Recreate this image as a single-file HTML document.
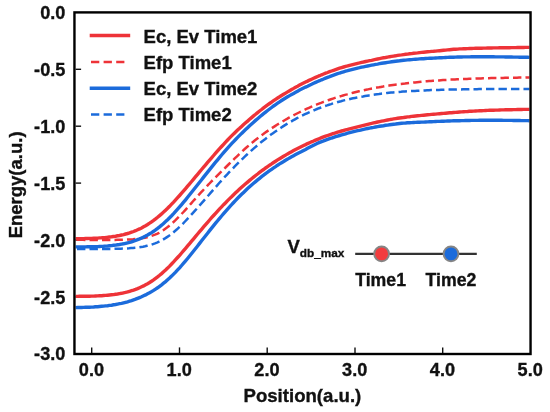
<!DOCTYPE html>
<html lang="en"><head><meta charset="utf-8"><title>Energy band diagram</title>
<style>
html,body{margin:0;padding:0;background:#fff;}
body{width:550px;height:412px;overflow:hidden;}
svg{display:block;font-family:"Liberation Sans",sans-serif;}
text{stroke:#111;stroke-width:0.35px;}
</style></head><body>
<svg width="550" height="412" viewBox="0 0 550 412">
<rect width="550" height="412" fill="#fff"/>
<g stroke="#111" stroke-width="1.4"><line x1="91.7" y1="353" x2="91.7" y2="347.4"/><line x1="179.5" y1="353" x2="179.5" y2="347.4"/><line x1="267.2" y1="353" x2="267.2" y2="347.4"/><line x1="355.0" y1="353" x2="355.0" y2="347.4"/><line x1="442.7" y1="353" x2="442.7" y2="347.4"/><line x1="75.6" y1="69.3" x2="81.1" y2="69.3"/><line x1="75.6" y1="126.2" x2="81.1" y2="126.2"/><line x1="75.6" y1="183.1" x2="81.1" y2="183.1"/><line x1="75.6" y1="240.0" x2="81.1" y2="240.0"/><line x1="75.6" y1="296.9" x2="81.1" y2="296.9"/></g>
<path d="M75.6,296.4 L77.6,296.4 L79.6,296.3 L81.6,296.3 L83.6,296.3 L85.6,296.3 L87.6,296.2 L89.6,296.2 L91.6,296.1 L93.6,296.1 L95.6,296.0 L97.6,295.9 L99.6,295.8 L101.6,295.7 L103.6,295.5 L105.6,295.4 L107.6,295.2 L109.6,295.0 L111.6,294.8 L113.6,294.6 L115.6,294.3 L117.6,294.0 L119.6,293.6 L121.6,293.3 L123.6,292.8 L125.6,292.4 L127.6,291.9 L129.6,291.3 L131.6,290.7 L133.6,290.1 L135.6,289.4 L137.6,288.6 L139.6,287.7 L141.6,286.8 L143.6,285.9 L145.6,284.8 L147.6,283.7 L149.6,282.5 L151.6,281.2 L153.6,279.9 L155.6,278.4 L157.6,276.9 L159.6,275.3 L161.6,273.6 L163.6,271.8 L165.6,270.0 L167.6,268.1 L169.6,266.1 L171.6,264.0 L173.6,261.9 L175.6,259.7 L177.6,257.5 L179.6,255.3 L181.6,253.0 L183.6,250.6 L185.6,248.3 L187.6,245.9 L189.6,243.6 L191.6,241.2 L193.6,238.8 L195.6,236.4 L197.6,234.0 L199.6,231.6 L201.6,229.3 L203.6,226.9 L205.6,224.6 L207.6,222.3 L209.6,220.0 L211.6,217.7 L213.6,215.5 L215.6,213.3 L217.6,211.1 L219.6,208.9 L221.6,206.8 L223.6,204.7 L225.6,202.7 L227.6,200.6 L229.6,198.6 L231.6,196.7 L233.6,194.7 L235.6,192.8 L237.6,190.9 L239.6,189.1 L241.6,187.3 L243.6,185.5 L245.6,183.8 L247.6,182.1 L249.6,180.4 L251.6,178.7 L253.6,177.1 L255.6,175.5 L257.6,174.0 L259.6,172.4 L261.6,170.9 L263.6,169.5 L265.6,168.0 L267.6,166.6 L269.6,165.2 L271.6,163.9 L273.6,162.5 L275.6,161.2 L277.6,159.9 L279.6,158.7 L281.6,157.5 L283.6,156.3 L285.6,155.1 L287.6,153.9 L289.6,152.8 L291.6,151.7 L293.6,150.6 L295.6,149.5 L297.6,148.5 L299.6,147.5 L301.6,146.5 L303.6,145.5 L305.6,144.6 L307.6,143.6 L309.6,142.7 L311.6,141.8 L313.6,141.0 L315.6,140.1 L317.6,139.3 L319.6,138.5 L321.6,137.7 L323.6,136.9 L325.6,136.2 L327.6,135.5 L329.6,134.8 L331.6,134.1 L333.6,133.5 L335.6,132.8 L337.6,132.2 L339.6,131.6 L341.6,131.0 L343.6,130.5 L345.6,129.9 L347.6,129.4 L349.6,128.8 L351.6,128.3 L353.6,127.8 L355.6,127.3 L357.6,126.8 L359.6,126.3 L361.6,125.8 L363.6,125.3 L365.6,124.8 L367.6,124.3 L369.6,123.8 L371.6,123.4 L373.6,122.9 L375.6,122.5 L377.6,122.0 L379.6,121.6 L381.6,121.2 L383.6,120.8 L385.6,120.4 L387.6,120.0 L389.6,119.6 L391.6,119.3 L393.6,118.9 L395.6,118.6 L397.6,118.3 L399.6,118.0 L401.6,117.7 L403.6,117.5 L405.6,117.2 L407.6,116.9 L409.6,116.7 L411.6,116.4 L413.6,116.2 L415.6,116.0 L417.6,115.8 L419.6,115.6 L421.6,115.4 L423.6,115.2 L425.6,115.0 L427.6,114.8 L429.6,114.6 L431.6,114.4 L433.6,114.2 L435.6,114.1 L437.6,113.9 L439.6,113.7 L441.6,113.5 L443.6,113.4 L445.6,113.2 L447.6,113.0 L449.6,112.8 L451.6,112.7 L453.6,112.5 L455.6,112.4 L457.6,112.2 L459.6,112.0 L461.6,111.9 L463.6,111.7 L465.6,111.6 L467.6,111.5 L469.6,111.3 L471.6,111.2 L473.6,111.1 L475.6,111.0 L477.6,110.9 L479.6,110.8 L481.6,110.7 L483.6,110.6 L485.6,110.5 L487.6,110.4 L489.6,110.3 L491.6,110.3 L493.6,110.2 L495.6,110.1 L497.6,110.1 L499.6,110.0 L501.6,109.9 L503.6,109.9 L505.6,109.8 L507.6,109.8 L509.6,109.7 L511.6,109.7 L513.6,109.6 L515.6,109.6 L517.6,109.5 L519.6,109.5 L521.6,109.5 L523.6,109.4 L525.6,109.4 L527.6,109.4 L529.4,109.4" fill="none" stroke="#EE3338" stroke-width="3.4"/>
<path d="M75.6,238.7 L77.6,238.7 L79.6,238.6 L81.6,238.6 L83.6,238.6 L85.6,238.5 L87.6,238.5 L89.6,238.4 L91.6,238.4 L93.6,238.3 L95.6,238.2 L97.6,238.1 L99.6,237.9 L101.6,237.8 L103.6,237.6 L105.6,237.5 L107.6,237.3 L109.6,237.0 L111.6,236.8 L113.6,236.5 L115.6,236.2 L117.6,235.8 L119.6,235.5 L121.6,235.0 L123.6,234.6 L125.6,234.0 L127.6,233.5 L129.6,232.9 L131.6,232.2 L133.6,231.5 L135.6,230.7 L137.6,229.8 L139.6,228.9 L141.6,227.9 L143.6,226.8 L145.6,225.7 L147.6,224.5 L149.6,223.2 L151.6,221.8 L153.6,220.4 L155.6,218.9 L157.6,217.3 L159.6,215.6 L161.6,213.9 L163.6,212.1 L165.6,210.2 L167.6,208.3 L169.6,206.3 L171.6,204.2 L173.6,202.1 L175.6,199.9 L177.6,197.7 L179.6,195.5 L181.6,193.2 L183.6,190.9 L185.6,188.6 L187.6,186.2 L189.6,183.9 L191.6,181.5 L193.6,179.1 L195.6,176.7 L197.6,174.3 L199.6,171.9 L201.6,169.5 L203.6,167.2 L205.6,164.8 L207.6,162.4 L209.6,160.1 L211.6,157.8 L213.6,155.5 L215.6,153.2 L217.6,150.9 L219.6,148.7 L221.6,146.5 L223.6,144.3 L225.6,142.1 L227.6,140.0 L229.6,137.9 L231.6,135.9 L233.6,133.9 L235.6,132.0 L237.6,130.1 L239.6,128.3 L241.6,126.4 L243.6,124.6 L245.6,122.8 L247.6,121.1 L249.6,119.3 L251.6,117.6 L253.6,115.9 L255.6,114.3 L257.6,112.6 L259.6,111.0 L261.6,109.5 L263.6,107.9 L265.6,106.4 L267.6,104.9 L269.6,103.5 L271.6,102.1 L273.6,100.7 L275.6,99.3 L277.6,98.0 L279.6,96.8 L281.6,95.5 L283.6,94.3 L285.6,93.1 L287.6,91.9 L289.6,90.7 L291.6,89.5 L293.6,88.4 L295.6,87.2 L297.6,86.2 L299.6,85.1 L301.6,84.0 L303.6,83.0 L305.6,82.0 L307.6,81.1 L309.6,80.1 L311.6,79.2 L313.6,78.3 L315.6,77.4 L317.6,76.5 L319.6,75.7 L321.6,74.8 L323.6,74.0 L325.6,73.2 L327.6,72.5 L329.6,71.7 L331.6,71.0 L333.6,70.3 L335.6,69.6 L337.6,68.9 L339.6,68.2 L341.6,67.6 L343.6,67.0 L345.6,66.4 L347.6,65.9 L349.6,65.3 L351.6,64.8 L353.6,64.3 L355.6,63.8 L357.6,63.3 L359.6,62.9 L361.6,62.4 L363.6,62.0 L365.6,61.5 L367.6,61.1 L369.6,60.7 L371.6,60.3 L373.6,59.8 L375.6,59.4 L377.6,59.0 L379.6,58.6 L381.6,58.2 L383.6,57.8 L385.6,57.5 L387.6,57.1 L389.6,56.7 L391.6,56.4 L393.6,56.1 L395.6,55.8 L397.6,55.4 L399.6,55.1 L401.6,54.9 L403.6,54.6 L405.6,54.3 L407.6,54.1 L409.6,53.8 L411.6,53.6 L413.6,53.3 L415.6,53.1 L417.6,52.9 L419.6,52.6 L421.6,52.4 L423.6,52.2 L425.6,52.0 L427.6,51.8 L429.6,51.6 L431.6,51.4 L433.6,51.3 L435.6,51.1 L437.6,50.9 L439.6,50.7 L441.6,50.5 L443.6,50.3 L445.6,50.1 L447.6,49.9 L449.6,49.7 L451.6,49.5 L453.6,49.3 L455.6,49.2 L457.6,49.1 L459.6,48.9 L461.6,48.9 L463.6,48.8 L465.6,48.7 L467.6,48.6 L469.6,48.5 L471.6,48.5 L473.6,48.4 L475.6,48.3 L477.6,48.3 L479.6,48.2 L481.6,48.2 L483.6,48.1 L485.6,48.1 L487.6,48.0 L489.6,48.0 L491.6,48.0 L493.6,47.9 L495.6,47.9 L497.6,47.9 L499.6,47.8 L501.6,47.8 L503.6,47.8 L505.6,47.7 L507.6,47.7 L509.6,47.7 L511.6,47.6 L513.6,47.6 L515.6,47.6 L517.6,47.5 L519.6,47.5 L521.6,47.5 L523.6,47.5 L525.6,47.4 L527.6,47.4 L529.4,47.4" fill="none" stroke="#EE3338" stroke-width="3.4"/>
<path d="M77.0,239.8 L79.0,239.8 L81.0,239.8 L83.0,239.8 L85.0,239.9 L87.0,239.9 L89.0,239.9 L91.0,239.9 L93.0,239.9 L95.0,239.9 L97.0,239.9 L99.0,239.9 L101.0,239.9 L103.0,239.9 L105.0,239.9 L107.0,239.9 L109.0,239.9 L111.0,239.9 L113.0,239.9 L115.0,239.9 L117.0,239.8 L119.0,239.8 L121.0,239.8 L123.0,239.7 L125.0,239.7 L127.0,239.6 L129.0,239.5 L131.0,239.4 L133.0,239.3 L135.0,239.1 L137.0,238.9 L139.0,238.7 L141.0,238.4 L143.0,238.1 L145.0,237.7 L147.0,237.3 L149.0,236.7 L151.0,236.1 L153.0,235.4 L155.0,234.7 L157.0,233.8 L159.0,232.8 L161.0,231.6 L163.0,230.4 L165.0,229.0 L167.0,227.6 L169.0,226.0 L171.0,224.3 L173.0,222.5 L175.0,220.7 L177.0,218.7 L179.0,216.7 L181.0,214.6 L183.0,212.5 L185.0,210.3 L187.0,208.1 L189.0,205.9 L191.0,203.6 L193.0,201.3 L195.0,199.1 L197.0,196.8 L199.0,194.6 L201.0,192.4 L203.0,190.3 L205.0,188.1 L207.0,186.0 L209.0,184.0 L211.0,181.9 L213.0,179.9 L215.0,177.9 L217.0,175.9 L219.0,173.9 L221.0,171.9 L223.0,169.9 L225.0,168.0 L227.0,166.0 L229.0,164.0 L231.0,162.1 L233.0,160.1 L235.0,158.2 L237.0,156.3 L239.0,154.4 L241.0,152.5 L243.0,150.6 L245.0,148.8 L247.0,147.0 L249.0,145.3 L251.0,143.6 L253.0,141.9 L255.0,140.3 L257.0,138.7 L259.0,137.2 L261.0,135.7 L263.0,134.3 L265.0,132.8 L267.0,131.4 L269.0,130.1 L271.0,128.7 L273.0,127.4 L275.0,126.1 L277.0,124.8 L279.0,123.6 L281.0,122.4 L283.0,121.2 L285.0,120.0 L287.0,118.9 L289.0,117.7 L291.0,116.7 L293.0,115.6 L295.0,114.5 L297.0,113.5 L299.0,112.5 L301.0,111.5 L303.0,110.6 L305.0,109.6 L307.0,108.7 L309.0,107.8 L311.0,106.9 L313.0,106.1 L315.0,105.3 L317.0,104.4 L319.0,103.6 L321.0,102.9 L323.0,102.1 L325.0,101.4 L327.0,100.7 L329.0,100.0 L331.0,99.3 L333.0,98.6 L335.0,97.9 L337.0,97.3 L339.0,96.7 L341.0,96.1 L343.0,95.5 L345.0,94.9 L347.0,94.4 L349.0,93.8 L351.0,93.3 L353.0,92.8 L355.0,92.3 L357.0,91.8 L359.0,91.3 L361.0,90.9 L363.0,90.4 L365.0,90.0 L367.0,89.6 L369.0,89.1 L371.0,88.7 L373.0,88.4 L375.0,88.0 L377.0,87.6 L379.0,87.3 L381.0,86.9 L383.0,86.6 L385.0,86.2 L387.0,85.9 L389.0,85.6 L391.0,85.3 L393.0,85.0 L395.0,84.7 L397.0,84.5 L399.0,84.2 L401.0,84.0 L403.0,83.7 L405.0,83.5 L407.0,83.2 L409.0,83.0 L411.0,82.8 L413.0,82.6 L415.0,82.4 L417.0,82.2 L419.0,82.0 L421.0,81.8 L423.0,81.6 L425.0,81.4 L427.0,81.3 L429.0,81.1 L431.0,81.0 L433.0,80.8 L435.0,80.7 L437.0,80.5 L439.0,80.4 L441.0,80.2 L443.0,80.1 L445.0,80.0 L447.0,79.9 L449.0,79.8 L451.0,79.6 L453.0,79.5 L455.0,79.4 L457.0,79.3 L459.0,79.2 L461.0,79.2 L463.0,79.1 L465.0,79.0 L467.0,78.9 L469.0,78.8 L471.0,78.7 L473.0,78.7 L475.0,78.6 L477.0,78.5 L479.0,78.5 L481.0,78.4 L483.0,78.3 L485.0,78.3 L487.0,78.2 L489.0,78.2 L491.0,78.1 L493.0,78.1 L495.0,78.0 L497.0,78.0 L499.0,78.0 L501.0,77.9 L503.0,77.9 L505.0,77.8 L507.0,77.8 L509.0,77.8 L511.0,77.7 L513.0,77.7 L515.0,77.7 L517.0,77.7 L519.0,77.6 L521.0,77.6 L523.0,77.6 L525.0,77.6 L527.0,77.5 L529.0,77.5 L529.4,77.5" fill="none" stroke="#EE3338" stroke-width="2.5" stroke-dasharray="8.4 4.1"/>
<path d="M75.6,307.6 L77.6,307.5 L79.6,307.5 L81.6,307.5 L83.6,307.4 L85.6,307.3 L87.6,307.3 L89.6,307.2 L91.6,307.1 L93.6,307.0 L95.6,306.8 L97.6,306.7 L99.6,306.5 L101.6,306.3 L103.6,306.1 L105.6,305.9 L107.6,305.7 L109.6,305.4 L111.6,305.2 L113.6,304.8 L115.6,304.5 L117.6,304.1 L119.6,303.7 L121.6,303.3 L123.6,302.8 L125.6,302.3 L127.6,301.8 L129.6,301.2 L131.6,300.6 L133.6,299.9 L135.6,299.2 L137.6,298.4 L139.6,297.6 L141.6,296.8 L143.6,295.8 L145.6,294.9 L147.6,293.8 L149.6,292.8 L151.6,291.6 L153.6,290.4 L155.6,289.1 L157.6,287.8 L159.6,286.3 L161.6,284.8 L163.6,283.2 L165.6,281.6 L167.6,279.8 L169.6,278.0 L171.6,276.1 L173.6,274.1 L175.6,272.1 L177.6,269.9 L179.6,267.8 L181.6,265.5 L183.6,263.2 L185.6,260.9 L187.6,258.5 L189.6,256.0 L191.6,253.5 L193.6,251.0 L195.6,248.5 L197.6,246.0 L199.6,243.4 L201.6,240.8 L203.6,238.3 L205.6,235.7 L207.6,233.2 L209.6,230.6 L211.6,228.1 L213.6,225.6 L215.6,223.2 L217.6,220.7 L219.6,218.3 L221.6,216.0 L223.6,213.6 L225.6,211.3 L227.6,209.1 L229.6,206.8 L231.6,204.7 L233.6,202.5 L235.6,200.4 L237.6,198.3 L239.6,196.3 L241.6,194.3 L243.6,192.4 L245.6,190.5 L247.6,188.6 L249.6,186.8 L251.6,185.0 L253.6,183.3 L255.6,181.6 L257.6,179.9 L259.6,178.3 L261.6,176.7 L263.6,175.2 L265.6,173.6 L267.6,172.2 L269.6,170.7 L271.6,169.3 L273.6,167.9 L275.6,166.6 L277.6,165.2 L279.6,163.9 L281.6,162.7 L283.6,161.5 L285.6,160.2 L287.6,159.1 L289.6,157.9 L291.6,156.8 L293.6,155.7 L295.6,154.6 L297.6,153.5 L299.6,152.5 L301.6,151.5 L303.6,150.4 L305.6,149.4 L307.6,148.3 L309.6,147.2 L311.6,146.2 L313.6,145.2 L315.6,144.2 L317.6,143.3 L319.6,142.4 L321.6,141.6 L323.6,140.9 L325.6,140.1 L327.6,139.4 L329.6,138.7 L331.6,138.0 L333.6,137.4 L335.6,136.7 L337.6,136.1 L339.6,135.5 L341.6,134.9 L343.6,134.3 L345.6,133.8 L347.6,133.2 L349.6,132.7 L351.6,132.2 L353.6,131.7 L355.6,131.2 L357.6,130.7 L359.6,130.3 L361.6,129.8 L363.6,129.4 L365.6,128.9 L367.6,128.5 L369.6,128.1 L371.6,127.7 L373.6,127.4 L375.6,127.0 L377.6,126.6 L379.6,126.3 L381.6,126.0 L383.6,125.7 L385.6,125.3 L387.6,125.1 L389.6,124.8 L391.6,124.5 L393.6,124.2 L395.6,124.0 L397.6,123.7 L399.6,123.5 L401.6,123.3 L403.6,123.1 L405.6,123.0 L407.6,122.8 L409.6,122.7 L411.6,122.6 L413.6,122.5 L415.6,122.4 L417.6,122.3 L419.6,122.2 L421.6,122.1 L423.6,122.1 L425.6,122.0 L427.6,121.9 L429.6,121.8 L431.6,121.7 L433.6,121.6 L435.6,121.5 L437.6,121.4 L439.6,121.4 L441.6,121.3 L443.6,121.2 L445.6,121.1 L447.6,121.0 L449.6,121.0 L451.6,120.9 L453.6,120.8 L455.6,120.8 L457.6,120.7 L459.6,120.7 L461.6,120.6 L463.6,120.6 L465.6,120.5 L467.6,120.5 L469.6,120.5 L471.6,120.4 L473.6,120.4 L475.6,120.4 L477.6,120.4 L479.6,120.3 L481.6,120.3 L483.6,120.3 L485.6,120.3 L487.6,120.3 L489.6,120.3 L491.6,120.3 L493.6,120.3 L495.6,120.3 L497.6,120.3 L499.6,120.3 L501.6,120.3 L503.6,120.4 L505.6,120.4 L507.6,120.4 L509.6,120.4 L511.6,120.4 L513.6,120.5 L515.6,120.5 L517.6,120.5 L519.6,120.5 L521.6,120.6 L523.6,120.6 L525.6,120.6 L527.6,120.6 L529.4,120.7" fill="none" stroke="#1B6BDB" stroke-width="3.4"/>
<path d="M75.6,246.9 L77.6,246.9 L79.6,246.9 L81.6,246.9 L83.6,246.9 L85.6,246.9 L87.6,246.8 L89.6,246.8 L91.6,246.8 L93.6,246.7 L95.6,246.6 L97.6,246.6 L99.6,246.5 L101.6,246.4 L103.6,246.3 L105.6,246.1 L107.6,246.0 L109.6,245.8 L111.6,245.6 L113.6,245.3 L115.6,245.1 L117.6,244.8 L119.6,244.5 L121.6,244.1 L123.6,243.8 L125.6,243.3 L127.6,242.8 L129.6,242.3 L131.6,241.8 L133.6,241.1 L135.6,240.5 L137.6,239.7 L139.6,238.9 L141.6,238.0 L143.6,237.1 L145.6,236.1 L147.6,235.0 L149.6,233.8 L151.6,232.6 L153.6,231.3 L155.6,229.9 L157.6,228.4 L159.6,226.8 L161.6,225.2 L163.6,223.4 L165.6,221.6 L167.6,219.7 L169.6,217.7 L171.6,215.7 L173.6,213.6 L175.6,211.4 L177.6,209.2 L179.6,206.9 L181.6,204.6 L183.6,202.2 L185.6,199.8 L187.6,197.3 L189.6,194.8 L191.6,192.3 L193.6,189.8 L195.6,187.3 L197.6,184.8 L199.6,182.2 L201.6,179.7 L203.6,177.1 L205.6,174.6 L207.6,172.1 L209.6,169.6 L211.6,167.1 L213.6,164.6 L215.6,162.2 L217.6,159.8 L219.6,157.4 L221.6,155.0 L223.6,152.7 L225.6,150.4 L227.6,148.1 L229.6,145.9 L231.6,143.7 L233.6,141.6 L235.6,139.5 L237.6,137.4 L239.6,135.4 L241.6,133.4 L243.6,131.5 L245.6,129.6 L247.6,127.7 L249.6,125.8 L251.6,124.0 L253.6,122.2 L255.6,120.4 L257.6,118.7 L259.6,117.0 L261.6,115.3 L263.6,113.7 L265.6,112.1 L267.6,110.5 L269.6,109.0 L271.6,107.5 L273.6,106.0 L275.6,104.6 L277.6,103.2 L279.6,101.8 L281.6,100.5 L283.6,99.2 L285.6,98.0 L287.6,96.8 L289.6,95.6 L291.6,94.5 L293.6,93.4 L295.6,92.3 L297.6,91.2 L299.6,90.1 L301.6,89.1 L303.6,88.1 L305.6,87.1 L307.6,86.2 L309.6,85.2 L311.6,84.3 L313.6,83.3 L315.6,82.4 L317.6,81.5 L319.6,80.7 L321.6,79.8 L323.6,79.0 L325.6,78.1 L327.6,77.3 L329.6,76.6 L331.6,75.8 L333.6,75.1 L335.6,74.4 L337.6,73.7 L339.6,73.0 L341.6,72.4 L343.6,71.8 L345.6,71.2 L347.6,70.7 L349.6,70.1 L351.6,69.6 L353.6,69.1 L355.6,68.6 L357.6,68.1 L359.6,67.7 L361.6,67.2 L363.6,66.8 L365.6,66.4 L367.6,66.0 L369.6,65.6 L371.6,65.2 L373.6,64.8 L375.6,64.4 L377.6,64.1 L379.6,63.7 L381.6,63.3 L383.6,63.0 L385.6,62.7 L387.6,62.4 L389.6,62.1 L391.6,61.8 L393.6,61.5 L395.6,61.2 L397.6,61.0 L399.6,60.8 L401.6,60.5 L403.6,60.3 L405.6,60.1 L407.6,59.9 L409.6,59.7 L411.6,59.6 L413.6,59.4 L415.6,59.2 L417.6,59.1 L419.6,58.9 L421.6,58.8 L423.6,58.7 L425.6,58.5 L427.6,58.4 L429.6,58.3 L431.6,58.2 L433.6,58.1 L435.6,58.0 L437.6,57.9 L439.6,57.7 L441.6,57.7 L443.6,57.6 L445.6,57.5 L447.6,57.4 L449.6,57.3 L451.6,57.2 L453.6,57.2 L455.6,57.1 L457.6,57.0 L459.6,57.0 L461.6,57.0 L463.6,56.9 L465.6,56.9 L467.6,56.9 L469.6,56.9 L471.6,56.8 L473.6,56.8 L475.6,56.8 L477.6,56.8 L479.6,56.8 L481.6,56.8 L483.6,56.8 L485.6,56.8 L487.6,56.8 L489.6,56.8 L491.6,56.8 L493.6,56.8 L495.6,56.9 L497.6,56.9 L499.6,56.9 L501.6,56.9 L503.6,56.9 L505.6,57.0 L507.6,57.0 L509.6,57.0 L511.6,57.0 L513.6,57.1 L515.6,57.1 L517.6,57.1 L519.6,57.2 L521.6,57.2 L523.6,57.2 L525.6,57.3 L527.6,57.3 L529.4,57.4" fill="none" stroke="#1B6BDB" stroke-width="3.4"/>
<path d="M77.0,249.1 L79.0,249.1 L81.0,249.1 L83.0,249.1 L85.0,249.1 L87.0,249.1 L89.0,249.1 L91.0,249.1 L93.0,249.1 L95.0,249.1 L97.0,249.1 L99.0,249.0 L101.0,249.0 L103.0,249.0 L105.0,249.0 L107.0,249.0 L109.0,248.9 L111.0,248.9 L113.0,248.9 L115.0,248.8 L117.0,248.8 L119.0,248.7 L121.0,248.7 L123.0,248.6 L125.0,248.5 L127.0,248.4 L129.0,248.3 L131.0,248.1 L133.0,248.0 L135.0,247.8 L137.0,247.6 L139.0,247.3 L141.0,247.0 L143.0,246.7 L145.0,246.3 L147.0,245.8 L149.0,245.3 L151.0,244.8 L153.0,244.1 L155.0,243.4 L157.0,242.6 L159.0,241.7 L161.0,240.7 L163.0,239.6 L165.0,238.4 L167.0,237.1 L169.0,235.8 L171.0,234.3 L173.0,232.7 L175.0,231.0 L177.0,229.3 L179.0,227.4 L181.0,225.5 L183.0,223.6 L185.0,221.5 L187.0,219.4 L189.0,217.3 L191.0,215.1 L193.0,212.9 L195.0,210.7 L197.0,208.4 L199.0,206.1 L201.0,203.9 L203.0,201.6 L205.0,199.3 L207.0,197.0 L209.0,194.7 L211.0,192.4 L213.0,190.1 L215.0,187.8 L217.0,185.6 L219.0,183.3 L221.0,181.1 L223.0,178.9 L225.0,176.7 L227.0,174.6 L229.0,172.4 L231.0,170.3 L233.0,168.3 L235.0,166.2 L237.0,164.2 L239.0,162.2 L241.0,160.2 L243.0,158.3 L245.0,156.4 L247.0,154.5 L249.0,152.7 L251.0,150.9 L253.0,149.1 L255.0,147.4 L257.0,145.7 L259.0,144.0 L261.0,142.3 L263.0,140.7 L265.0,139.2 L267.0,137.6 L269.0,136.1 L271.0,134.6 L273.0,133.2 L275.0,131.8 L277.0,130.4 L279.0,129.0 L281.0,127.7 L283.0,126.4 L285.0,125.1 L287.0,123.9 L289.0,122.7 L291.0,121.6 L293.0,120.4 L295.0,119.3 L297.0,118.2 L299.0,117.2 L301.0,116.2 L303.0,115.2 L305.0,114.2 L307.0,113.3 L309.0,112.4 L311.0,111.5 L313.0,110.7 L315.0,109.8 L317.0,109.0 L319.0,108.2 L321.0,107.5 L323.0,106.8 L325.0,106.0 L327.0,105.4 L329.0,104.7 L331.0,104.1 L333.0,103.4 L335.0,102.8 L337.0,102.3 L339.0,101.7 L341.0,101.2 L343.0,100.6 L345.0,100.1 L347.0,99.6 L349.0,99.2 L351.0,98.7 L353.0,98.3 L355.0,97.9 L357.0,97.5 L359.0,97.1 L361.0,96.7 L363.0,96.4 L365.0,96.0 L367.0,95.7 L369.0,95.4 L371.0,95.1 L373.0,94.8 L375.0,94.5 L377.0,94.2 L379.0,94.0 L381.0,93.7 L383.0,93.5 L385.0,93.3 L387.0,93.0 L389.0,92.8 L391.0,92.6 L393.0,92.5 L395.0,92.3 L397.0,92.1 L399.0,91.9 L401.0,91.8 L403.0,91.6 L405.0,91.5 L407.0,91.3 L409.0,91.2 L411.0,91.1 L413.0,91.0 L415.0,90.9 L417.0,90.8 L419.0,90.7 L421.0,90.6 L423.0,90.5 L425.0,90.4 L427.0,90.3 L429.0,90.2 L431.0,90.1 L433.0,90.1 L435.0,90.0 L437.0,89.9 L439.0,89.9 L441.0,89.8 L443.0,89.8 L445.0,89.7 L447.0,89.7 L449.0,89.6 L451.0,89.6 L453.0,89.5 L455.0,89.5 L457.0,89.4 L459.0,89.4 L461.0,89.4 L463.0,89.3 L465.0,89.3 L467.0,89.3 L469.0,89.3 L471.0,89.2 L473.0,89.2 L475.0,89.2 L477.0,89.2 L479.0,89.1 L481.0,89.1 L483.0,89.1 L485.0,89.1 L487.0,89.1 L489.0,89.1 L491.0,89.0 L493.0,89.0 L495.0,89.0 L497.0,89.0 L499.0,89.0 L501.0,89.0 L503.0,89.0 L505.0,89.0 L507.0,89.0 L509.0,88.9 L511.0,88.9 L513.0,88.9 L515.0,88.9 L517.0,88.9 L519.0,88.9 L521.0,88.9 L523.0,88.9 L525.0,88.9 L527.0,88.9 L529.0,88.9 L529.4,88.9" fill="none" stroke="#1B6BDB" stroke-width="2.5" stroke-dasharray="8.4 4.1"/>
<rect x="74.45" y="12.4" width="456.1" height="341.6" fill="none" stroke="#000" stroke-width="2.4"/>
<g font-size="18.1" font-weight="bold" fill="#111"><text x="91.4" y="375.6" text-anchor="middle">0.0</text><text x="179.2" y="375.6" text-anchor="middle">1.0</text><text x="266.9" y="375.6" text-anchor="middle">2.0</text><text x="354.7" y="375.6" text-anchor="middle">3.0</text><text x="442.4" y="375.6" text-anchor="middle">4.0</text><text x="530.2" y="375.6" text-anchor="middle">5.0</text><text x="65.3" y="19.0" text-anchor="end">0.0</text><text x="65.3" y="75.9" text-anchor="end">-0.5</text><text x="65.3" y="132.8" text-anchor="end">-1.0</text><text x="65.3" y="189.7" text-anchor="end">-1.5</text><text x="65.3" y="246.6" text-anchor="end">-2.0</text><text x="65.3" y="303.5" text-anchor="end">-2.5</text><text x="65.3" y="360.4" text-anchor="end">-3.0</text></g>
<text x="302.4" y="401.5" text-anchor="middle" font-size="18.6" font-weight="bold" fill="#111">Position(a.u.)</text>
<text transform="translate(21.8,184.9) rotate(-90)" text-anchor="middle" font-size="18.5" font-weight="bold" fill="#111">Energy(a.u.)</text>
<line x1="89.7" y1="35.5" x2="130.2" y2="35.5" stroke="#EE3338" stroke-width="3.4"/><line x1="91" y1="62" x2="124.4" y2="62" stroke="#EE3338" stroke-width="2.3" stroke-dasharray="8.3 4.3"/><line x1="89.7" y1="88.3" x2="130.2" y2="88.3" stroke="#1B6BDB" stroke-width="3.4"/><line x1="91" y1="114.5" x2="124.4" y2="114.5" stroke="#1B6BDB" stroke-width="2.3" stroke-dasharray="8.3 4.3"/><text x="143.6" y="42.5" font-size="18.5" font-weight="bold" fill="#111">Ec, Ev Time1</text><text x="143.6" y="68.8" font-size="18.5" font-weight="bold" fill="#111">Efp Time1</text><text x="143.6" y="95.1" font-size="18.5" font-weight="bold" fill="#111">Ec, Ev Time2</text><text x="143.6" y="121.4" font-size="18.5" font-weight="bold" fill="#111">Efp Time2</text>
<text x="287.4" y="252.8" font-size="18.5" font-weight="bold" fill="#111">V<tspan font-size="11.8" dy="4.3">db_max</tspan></text><line x1="355.2" y1="253.8" x2="476.8" y2="253.8" stroke="#333" stroke-width="2.2"/><circle cx="381.6" cy="253.9" r="7.4" fill="#F23C3E" stroke="#858585" stroke-width="1.9"/><circle cx="451" cy="253.9" r="7.4" fill="#1B6BDB" stroke="#858585" stroke-width="1.9"/><text x="355.2" y="286.3" font-size="17.7" font-weight="bold" fill="#111">Time1</text><text x="425.6" y="286.3" font-size="17.7" font-weight="bold" fill="#111">Time2</text>
</svg>
</body></html>
